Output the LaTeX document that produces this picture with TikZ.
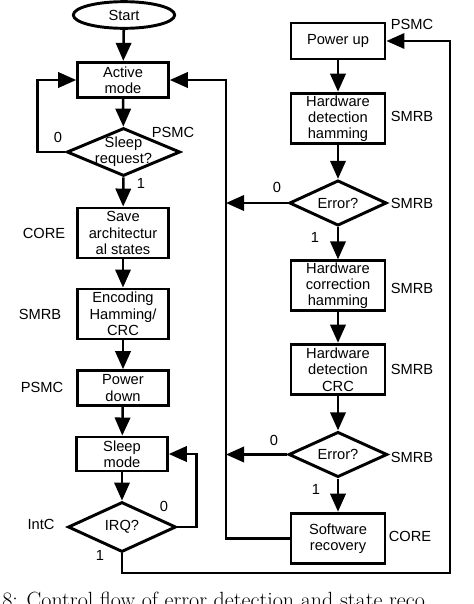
\documentclass[tikz,border=0pt]{standalone}
\usepackage{fontspec}
\setsansfont{Liberation Sans}
\usepackage{tikz}
\usetikzlibrary{arrows.meta,shapes.geometric}
\tikzset{
  txt/.style={font=\sffamily\fontsize{11}{12.2}\selectfont},
  box/.style={txt,draw,line width=2.2pt,rectangle,align=center,inner sep=0pt},
  lbox/.style={box,minimum width=68pt},
  rbox/.style={box,minimum width=70.5pt},
  test/.style={draw,line width=2.2pt,diamond,inner sep=0pt},
  tag/.style={txt,inner sep=0pt},
  flow/.style={line width=1.9pt,-{Triangle[length=13.5pt,width=11.5pt]}},
}

\begin{document}
\begin{tikzpicture}[x=0.75pt,y=-0.75pt]
\useasboundingbox (0,0) rectangle (474,604);
\node[txt,draw,ellipse,line width=2.2pt,minimum width=76pt,minimum height=20pt,inner sep=0pt] (start) at (124,15) {Start};
\node[lbox,minimum height=26.5pt] (active) at (123,80) {Active\\mode};
\node[test,minimum width=85pt,minimum height=36pt,label={[tag,align=center]center:Sleep\\request?}] (sleepq) at (123.5,152) {};
\node[lbox,minimum height=37.5pt] (save) at (123,233) {Save\\architectur\\al states};
\node[lbox,minimum height=37.5pt] (encode) at (123,314) {Encoding\\Hamming/\\CRC};
\node[lbox,minimum height=26pt] (pdown) at (123,388) {Power\\down};
\node[lbox,minimum height=25.5pt] (smode) at (122,454) {Sleep\\mode};
\node[test,minimum width=81pt,minimum height=37.5pt,label={[tag]center:IRQ?}] (irq) at (122,527) {};

\node[rbox,minimum height=27pt] (pup) at (338,41) {Power up};
\node[rbox,minimum height=38pt] (hwdetham) at (338,118.5) {Hardware\\detection\\hamming};
\node[test,minimum width=73pt,minimum height=34pt,label={[tag]center:Error?}] (errA) at (338,203) {};
\node[rbox,minimum height=37pt] (hwcorr) at (338,285.5) {Hardware\\correction\\hamming};
\node[rbox,minimum height=38pt] (hwdetcrc) at (338,369.5) {Hardware\\detection\\CRC};
\node[test,minimum width=74pt,minimum height=34pt,label={[tag]center:Error?}] (errB) at (338,454.5) {};
\node[rbox,minimum height=38pt] (swrec) at (338,538.5) {Software\\recovery};

\node[tag] (uA) at (173,132) {PSMC};
\node[tag] (uB) at (44,233) {CORE};
\node[tag] (uC) at (40,314) {SMRB};
\node[tag] (uD) at (42,387) {PSMC};
\node[tag] (uE) at (41,524) {IntC};
\node[tag] (uF) at (412,24) {PSMC};
\node[tag] (uG) at (412,116) {SMRB};
\node[tag] (uH) at (412,203) {SMRB};
\node[tag] (uI) at (412,288) {SMRB};
\node[tag] (uJ) at (412,369) {SMRB};
\node[tag] (uK) at (412,457) {SMRB};
\node[tag] (uL) at (410,536) {CORE};

\node[tag] (nA) at (58,137) {0};
\node[tag] (yA) at (141,183) {1};
\node[tag] (nB) at (164,506) {0};
\node[tag] (yB) at (100,555) {1};
\node[tag] (nC) at (277,187) {0};
\node[tag] (yC) at (315,237) {1};
\node[tag] (nD) at (274,440) {0};
\node[tag] (yD) at (316,489) {1};

\coordinate (bus) at (226,80);
\coordinate (corner) at (450,573);

\draw[flow] (start) -- (active);
\draw[flow] (active) -- (sleepq);
\draw[flow] (sleepq.west) -- ++(-28,0) |- (active.west);
\draw[flow] (sleepq) -- (save);
\draw[flow] (save) -- (encode);
\draw[flow] (encode) -- (pdown);
\draw[flow] (pdown) -- (smode);
\draw[flow] (smode) -- (irq);
\draw[flow] (irq.east) -- ++(19,0) |- (smode.east);
\draw[flow] (irq.south) |- (corner) |- (pup.east);

\draw[flow] (pup) -- (hwdetham);
\draw[flow] (hwdetham) -- (errA);
\draw[flow] (errA) -- (hwcorr);
\draw[flow] (hwcorr) -- (hwdetcrc);
\draw[flow] (hwdetcrc) -- (errB);
\draw[flow] (errB) -- (swrec);
\draw[flow] (swrec.west) -| (bus) -- (active.east);
\draw[flow] (errA.west) -- (errA.west -| bus);
\draw[flow] (errB.west) -- (errB.west -| bus);

\node[anchor=base west,inner sep=0pt,font=\rmfamily\fontsize{16.5}{19}\selectfont] (caption) at (2,607) {8: Control flow of error detection and state reco};
\end{tikzpicture}
\end{document}
